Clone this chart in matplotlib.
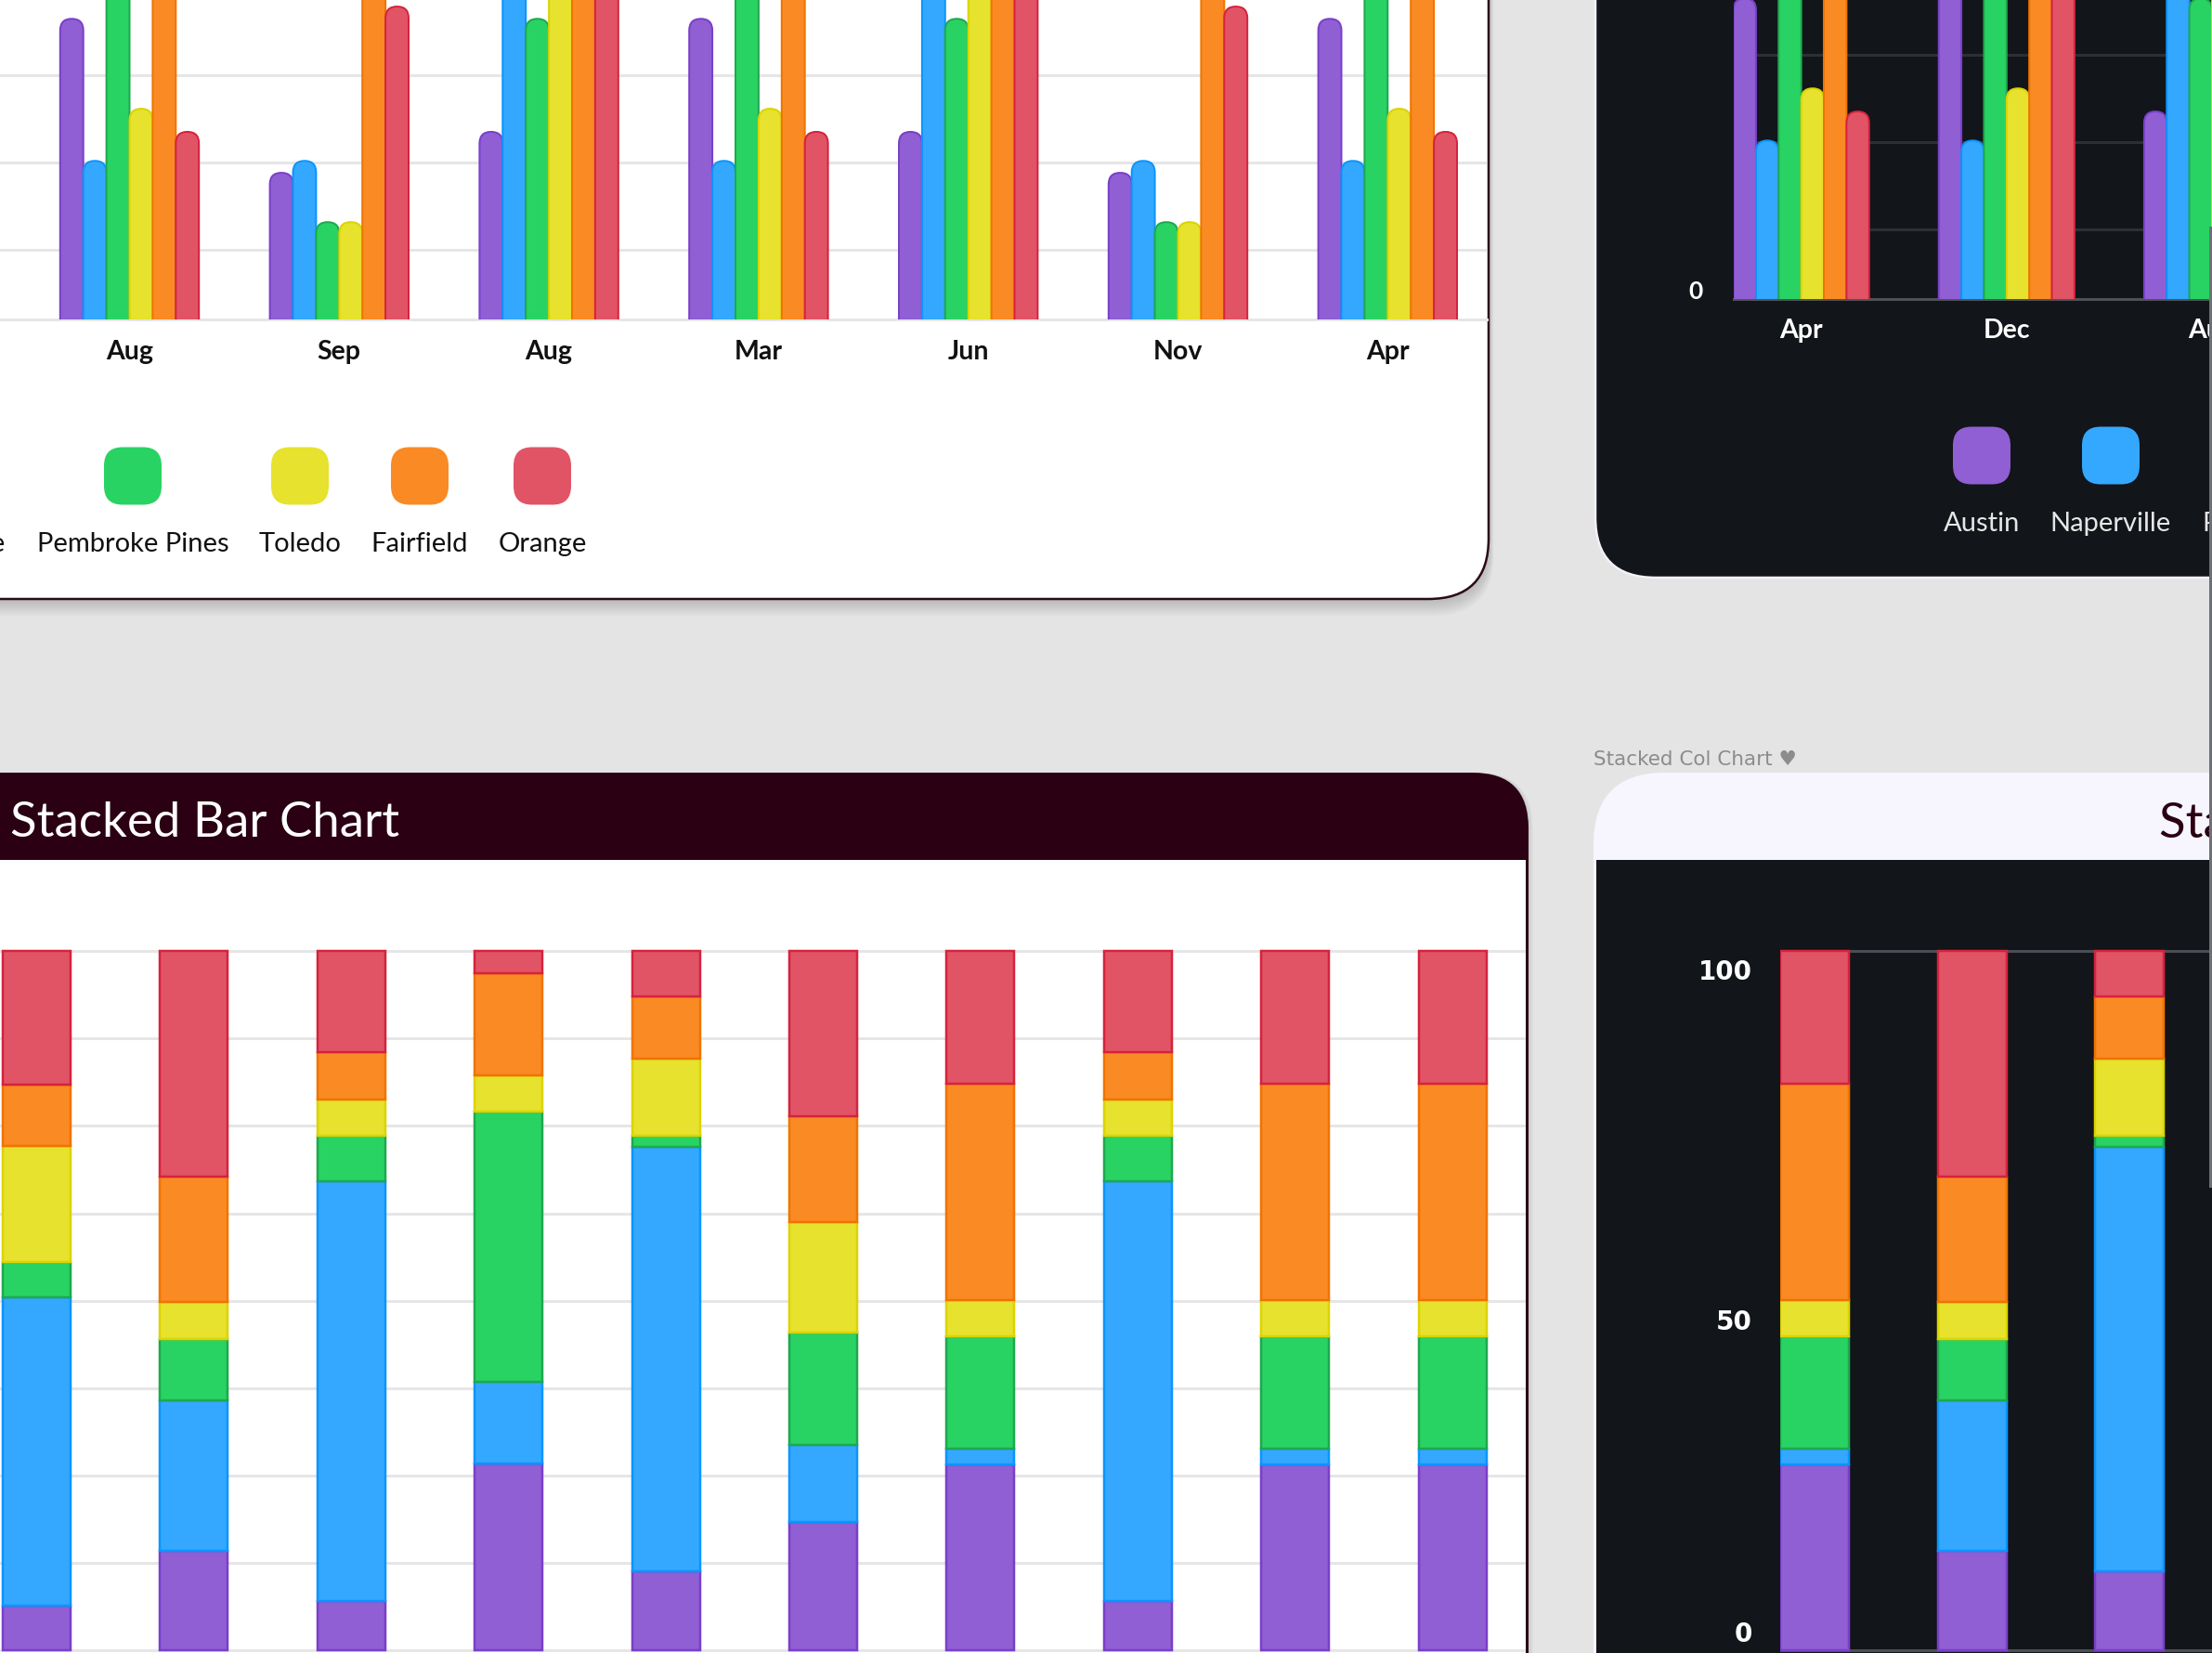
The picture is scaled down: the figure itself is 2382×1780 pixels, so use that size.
"""Dashboard crop: grouped bar charts (light + dark) and 100% stacked bar charts."""
import numpy as np
import matplotlib
matplotlib.use("Agg")
import matplotlib.pyplot as plt
import matplotlib.transforms as mtransforms
from matplotlib.patches import FancyBboxPatch, Rectangle

W, H, DPI = 2382, 1780, 100
PX = 72 / DPI          # points per pixel
FONT = "Lato"

# ---- data ----
cities = ["Austin", "Naperville", "Pembroke Pines", "Toledo", "Fairfield", "Orange"]
fills = ["#8f5fd3", "#34a8ff", "#28d363", "#e6e22d", "#fa8a24", "#e15466"]
edges = ["#7a3fca", "#0a95ff", "#1fa84e", "#dcd300", "#ef7400", "#d5233d"]

# light grouped chart (top left)
months_a = ["Aug", "Sep", "Aug", "Mar", "Jun", "Nov", "Apr"]
austin_a = [86, 42, 53.7, 86, 53.7, 42, 86]
naperville_a = [45.4, 45.4, 104, 45.4, 104, 45.4, 45.4]
pembroke_a = [112, 27.9, 86, 112, 86, 27.9, 112]
toledo_a = [60.3, 27.9, 98, 60.3, 98, 27.9, 60.3]
fairfield_a = [118, 101, 109, 118, 109, 101, 118]
orange_a = [53.7, 89.5, 96, 53.7, 96, 89.5, 53.7]

# dark grouped chart (top right)
months_b = ["Apr", "Dec", "Aug"]
austin_b = [86, 100, 53.7]
naperville_b = [45.4, 45.4, 104]
pembroke_b = [112, 112, 86]
toledo_b = [60.3, 60.3, 98]
fairfield_b = [118, 118, 109]
orange_b = [53.7, 107, 96]

# 100% stacked bars (bottom left)
austin_c = [6.4, 14.2, 7.1, 26.7, 11.3, 18.3, 26.6, 7.1, 26.6, 26.6]
naperville_c = [44.1, 21.6, 60.0, 11.7, 60.7, 11.0, 2.2, 60.0, 2.2, 2.2]
pembroke_c = [5.0, 8.7, 6.5, 38.7, 1.6, 16.1, 16.1, 6.5, 16.1, 16.1]
toledo_c = [16.6, 5.3, 5.2, 5.1, 11.0, 15.8, 5.2, 5.2, 5.2, 5.2]
fairfield_c = [8.8, 17.9, 6.7, 14.6, 8.9, 15.2, 30.9, 6.7, 30.9, 30.9]
orange_c = [19.1, 32.3, 14.5, 3.2, 6.5, 23.6, 19.0, 14.5, 19.0, 19.0]

# 100% stacked columns (bottom right, dark)
austin_d = [26.6, 14.2, 11.3]
naperville_d = [2.2, 21.6, 60.7]
pembroke_d = [16.1, 8.7, 1.6]
toledo_d = [5.2, 5.3, 11.0]
fairfield_d = [30.9, 17.9, 8.9]
orange_d = [19.0, 32.3, 6.5]

grid_a = [20, 45, 70, 95]

fig = plt.figure(figsize=(W / DPI, H / DPI), dpi=DPI)
fig.patch.set_facecolor("#e4e4e4")

bg = fig.add_axes([0, 0, 1, 1], zorder=0)
bg.set_xlim(0, W); bg.set_ylim(H, 0); bg.axis("off")


def card(x0, y0, x1, y1, r, fc, ec="none", lw=0, z=1, alpha=1):
    bg.add_patch(FancyBboxPatch((x0, y0), x1 - x0, y1 - y0,
                                boxstyle=f"round,pad=0,rounding_size={r}",
                                fc=fc, ec=ec, lw=lw * PX, zorder=z, alpha=alpha))


def px_axes(x0, y0, x1, y1, z=2):
    ax = fig.add_axes([x0 / W, 1 - y1 / H, (x1 - x0) / W, (y1 - y0) / H], zorder=z)
    ax.set_facecolor("none")
    for s in ax.spines.values():
        s.set_visible(False)
    return ax


# ---- cards ----
for i in range(1, 10):   # soft shadow under the top-left card
    card(-200, -200, 1603 + i * 0.6, 645 + i * 2, 65, "#000000", z=0.5, alpha=0.018)
card(-200, -200, 1603, 645, 65, "white", ec="#2b0a19", lw=2.5)
card(1718, -200, 2700, 622, 65, "#121519", ec="#f1f1f6", lw=2.5)
for i in range(1, 6):
    card(-200, 832, 1646 + i, 2000, 60, "#000000", z=0.5, alpha=0.02)
card(-200, 832, 1646, 2000, 60, "#2a0012")
bg.add_patch(Rectangle((-200, 926), 1843, 1100, fc="white", zorder=1.5))
card(1716, 832, 2700, 2000, 77, "#f7f6ff")
bg.add_patch(Rectangle((1719, 926), 1000, 1100, fc="#121519", zorder=1.5))

bg.text(11, 901, "Stacked Bar Chart", color="white", fontsize=38, family=FONT, va="baseline", zorder=5)
bg.text(2325, 902, "Stacked Col Chart", color="#2a0012", fontsize=38, family=FONT, va="baseline", zorder=5)
bg.text(1716, 824, "Stacked Col Chart \u2665", color="#8c8c8c", fontsize=15.5,
        family="DejaVu Sans", va="baseline", zorder=5)


def legend(centers, marker_y, text_y, color):
    for name, c, cx in zip(cities, fills, centers):
        bg.add_patch(FancyBboxPatch((cx - 31, marker_y - 31), 62, 62,
                                    boxstyle="round,pad=0,rounding_size=20",
                                    fc=c, ec="none", zorder=5))
        bg.text(cx, text_y, name, ha="center", va="baseline", color=color,
                fontsize=21, family=FONT, zorder=5)


legend([-230, -60, 143, 323, 452, 584], 512.5, 594, "#111111")
legend([2134, 2273, 2475, 2650, 2790, 2920], 490.5, 572, "#e6e6e6")


def grouped(ax, series, labels, bw, text_color, label_pad):
    x = np.arange(len(labels))
    xl, yl = ax.get_xlim(), ax.get_ylim()
    bb = ax.get_position()
    asp = (bb.width * W / (xl[1] - xl[0])) / (bb.height * H / (yl[1] - yl[0]))
    for k, vals in enumerate(series):
        bars = ax.bar(x + (k - 2.5) * bw, vals, bw)
        for rect in bars:
            bx, by = rect.get_xy()
            w, h = rect.get_width(), rect.get_height()
            r = w / 2
            ext = r * asp
            ax.add_patch(FancyBboxPatch((bx, by - ext), w, h + ext,
                                        boxstyle=f"round,pad=0,rounding_size={r}",
                                        mutation_aspect=asp, fc=fills[k], ec=edges[k],
                                        lw=2 * PX, zorder=3))
            rect.set_visible(False)
    ax.set_xlim(xl); ax.set_ylim(yl)
    ax.set_xticks(x)
    ax.set_xticklabels(labels, fontsize=20.5, fontweight="bold", color=text_color, family=FONT)
    ax.tick_params(axis="x", length=0, pad=label_pad * PX)
    for lab in ax.get_xticklabels():
        lab.set_va("baseline")


# ---- top left: light grouped bars ----
ax1 = px_axes(0, 0, 1601, 344.3)
ax1.set_ylim(0, 344.3 / 3.768)
ax1.set_xlim(-139.5 / 225.8, (1601 - 139.5) / 225.8)
for v in grid_a:
    ax1.axhline(v, color="#e6e6e6", lw=3 * PX, zorder=1)
ax1.axhline(0, color="#e6e6e6", lw=3 * PX, zorder=1, clip_on=False)
ax1.set_yticks([])
grouped(ax1, [austin_a, naperville_a, pembroke_a, toledo_a, fairfield_a, orange_a],
        months_a, 24.9 / 225.8, "#111111", 42.4)

# ---- top right: dark grouped bars ----
ax2 = px_axes(1866.6, 0, 2382, 322.4)
ax2.set_ylim(0, 322.4 / 3.768)
ax2.set_xlim(-75 / 227, (2382 - 1941.6) / 227)
for v in grid_a:
    ax2.axhline(v, color="#2c3035", lw=3 * PX, zorder=1)
ax2.axhline(0, color="#4e5257", lw=3 * PX, zorder=1, clip_on=False)
grouped(ax2, [austin_b, naperville_b, pembroke_b, toledo_b, fairfield_b, orange_b],
        months_b, 25 / 227, "white", 41.6)
ax2.set_yticks([0])
ax2.set_yticklabels(["0"], fontsize=19, fontweight="bold", color="white", family=FONT)
ax2.tick_params(axis="y", length=0, pad=33.3 * PX)
for lab in ax2.get_yticklabels():
    lab.set_va("baseline")


def stacked(ax, series, bw, lw):
    x = np.arange(len(series[0]))
    bottom = np.zeros(len(x))
    for k, vals in enumerate(series):
        ax.bar(x, vals, bw, bottom=bottom, color=fills[k], edgecolor=edges[k],
               linewidth=lw * PX, zorder=3)
        bottom += np.array(vals)


# ---- bottom left: stacked bar chart ----
ylim_c = ((1777 - 1780) / 7.527, (1777 - 1010) / 7.527)
ax3 = px_axes(0, 1010, 1643, 1780)
ax3.set_ylim(ylim_c)
ax3.set_xlim(-39.5 / 169.4, (1643 - 39.5) / 169.4)
for v in np.arange(0, 100.1, 12.5):
    ax3.axhline(v, color="#e6e6e6", lw=3 * PX, zorder=1)
stacked(ax3, [austin_c, naperville_c, pembroke_c, toledo_c, fairfield_c, orange_c], 73 / 169.4, 2.5)
ax3.set_xticks([]); ax3.set_yticks([])

# ---- bottom right: dark stacked columns ----
ax4 = px_axes(1917, 1010, 2382, 1780)
ax4.set_ylim(ylim_c)
ax4.set_xlim(-37 / 169.6, (2382 - 1954) / 169.6)
for v in [0, 100]:
    ax4.axhline(v, color="#4b4f55", lw=3 * PX, zorder=1)
stacked(ax4, [austin_d, naperville_d, pembroke_d, toledo_d, fairfield_d, orange_d], 74 / 169.6, 2.5)
ax4.set_xticks([])
ax4.set_yticks([0, 50, 100])
ax4.set_yticklabels(["0", "50", "100"], fontsize=20, fontweight="bold", color="white",
                    family="DejaVu Sans")
ax4.tick_params(axis="y", length=0, pad=30 * PX)
for lab, dy in zip(ax4.get_yticklabels(), [9, -31, -31]):
    lab.set_va("baseline")
    lab.set_transform(lab.get_transform() +
                      mtransforms.ScaledTranslation(0, dy / DPI, fig.dpi_scale_trans))

# thin scrollbar-like line on the right edge
fig.add_artist(plt.Line2D([2380 / W] * 2, [1 - 245 / H, 1 - 1277 / H],
                          color="#6d7176", lw=3 * PX, zorder=10))

fig.savefig("out.png", dpi=DPI, facecolor=fig.get_facecolor())
